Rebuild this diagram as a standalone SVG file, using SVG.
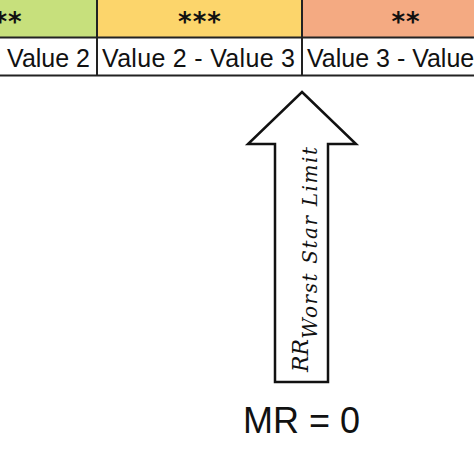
<svg xmlns="http://www.w3.org/2000/svg" width="474" height="474" viewBox="0 0 474 474">
<style>
.cell{font-family:"Liberation Sans",Arial,sans-serif;font-size:25px;fill:#111}
.star{font-family:"DejaVu Sans",sans-serif;font-size:26px;font-weight:bold;fill:#111;text-anchor:middle;letter-spacing:1px}
.grid{stroke:#222;stroke-width:2;fill:none}
.math{font-family:"DejaVu Serif",serif;font-style:italic;fill:#111}
</style>
<rect width="474" height="474" fill="#fff"/>
<g id="table">
<rect x="0" y="0" width="97" height="37" fill="#c7e07c"/>
<rect x="97" y="0" width="205" height="37" fill="#fcd56b"/>
<rect x="302" y="0" width="172" height="37" fill="#f4aa82"/>
<line class="grid" x1="0" y1="37.5" x2="474" y2="37.5"/>
<line class="grid" x1="0" y1="75.5" x2="474" y2="75.5"/>
<line class="grid" x1="97" y1="0" x2="97" y2="76"/>
<line class="grid" x1="302" y1="0" x2="302" y2="76"/>
<text class="star" x="8" y="31">**</text>
<text class="star" x="200" y="31">***</text>
<text class="star" x="406" y="31">**</text>
<text class="cell" x="90" y="67" text-anchor="end">Value 2</text>
<text class="cell" x="102" y="67" textLength="193">Value 2 - Value 3</text>
<text class="cell" x="307" y="67">Value 3 - Value 4</text>
</g>
<g id="arrow">
<polygon points="302,92 356,144 328,144 328,382 275,382 275,144 248,144" fill="#fff" stroke="#111" stroke-width="2.5" stroke-linejoin="miter"/>
<text class="math" transform="translate(308,372) rotate(-90)" font-size="22">RR<tspan font-size="20" dy="9" textLength="192">Worst Star Limit</tspan></text>
</g>
<g id="label">
<text x="243" y="433" font-family="Liberation Sans,Arial,sans-serif" font-size="36" fill="#111">MR = 0</text>
</g>
</svg>
